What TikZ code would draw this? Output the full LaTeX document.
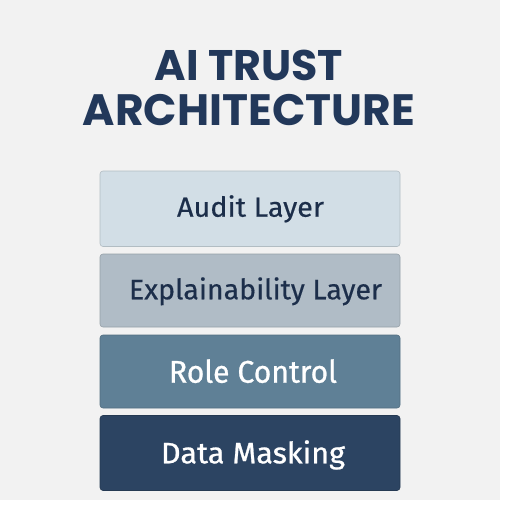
\documentclass[tikz,border=0pt]{standalone}
\usepackage{fontspec}
\setmainfont{Fira Sans}
\newfontfamily\titlefont{Poppins}
\newfontfamily\layerfont[FakeBold=0.4]{Fira Sans}
\newfontfamily\layerfontw[FakeBold=0.8]{Fira Sans}
\usepackage{graphicx}
\definecolor{bgpanel}{HTML}{F2F2F2}
\definecolor{titlecol}{HTML}{22385A}
\definecolor{auditfill}{HTML}{D2DEE6}
\definecolor{explfill}{HTML}{B0BCC6}
\definecolor{rolefill}{HTML}{5F8096}
\definecolor{datafill}{HTML}{2C4462}
\definecolor{darktext}{HTML}{1C2E4A}
\tikzset{
  layerbox/.style={draw=#1!85!black, line width=0.6pt, rounded corners=3pt},
  titletext/.style={text=titlecol, inner sep=0pt, anchor=base},
  layertext/.style={inner sep=0pt, anchor=base},
}
\begin{document}
\begin{tikzpicture}[x=1pt,y=-1pt]
\useasboundingbox (0,0) rectangle (512,512);
\fill[white] (0,0) rectangle (512,512);
\fill[bgpanel] (0,0) rectangle (500,500);
% title
\node[titletext] (t1) at (249,80) {\resizebox{188pt}{!}{\titlefont\bfseries AI TRUST}};
\node[titletext] (t2) at (249,125) {\resizebox{332pt}{!}{\titlefont\bfseries ARCHITECTURE}};
% layers
\filldraw[layerbox=auditfill, fill=auditfill] (100,171) rectangle (400,246.5);
\filldraw[layerbox=explfill, fill=explfill] (100,254) rectangle (400,327);
\filldraw[layerbox=rolefill, fill=rolefill] (100,335) rectangle (400,408);
\filldraw[layerbox=datafill, fill=datafill] (100,415.5) rectangle (400,490.5);
\node[layertext, text=darktext] (audit) at (250.5,216.7) {\resizebox{147pt}{21.5pt}{\layerfont Audit Layer}};
\node[layertext, text=darktext] (expl) at (255.5,299.3) {\resizebox{253pt}{22pt}{\layerfont Explainability Layer}};
\node[layertext, text=white] (role) at (253,382.7) {\resizebox{168pt}{23.5pt}{\layerfontw Role Control}};
\node[layertext, text=white] (data) at (253,463.3) {\resizebox{184pt}{23pt}{\layerfontw Data Masking}};
\end{tikzpicture}
\end{document}
